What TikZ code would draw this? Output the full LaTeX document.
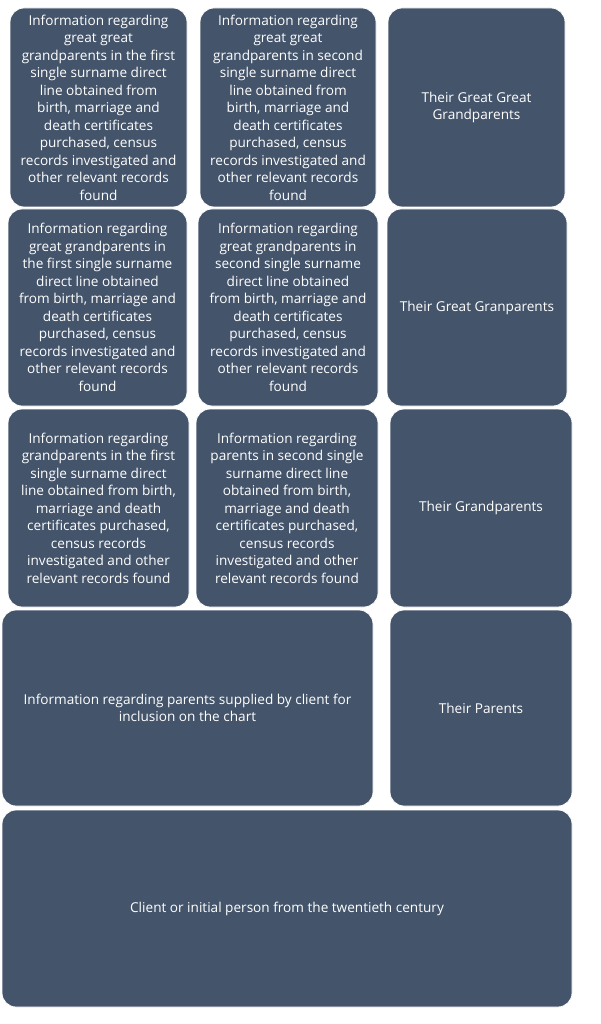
\documentclass[tikz,border=0pt]{standalone}
\usepackage{fontspec}
\setmainfont{Open Sans}
\definecolor{boxc}{HTML}{44546A}
\begin{document}
\begin{tikzpicture}[x=1pt,y=-1pt,
  bx/.style={fill=boxc,draw=white,line width=0.8pt,rounded corners=14pt},
  tx/.style={text=white,align=center,font=\fontsize{13.6}{17.5}\selectfont,inner sep=0pt}]
\useasboundingbox (0,0) rectangle (601,1024);
\newcommand{\bb}[6]{\draw[bx] (#2,#3) rectangle (#4,#5);
  \node[tx] (#1) at ({(#2+#4)/2},{(#3+#5)/2}) {#6};}
\bb{a1}{10}{8}{187}{207}{Information regarding\\great great\\grandparents in the first\\single surname direct\\line obtained from\\birth, marriage and\\death certificates\\purchased, census\\records investigated and\\other relevant records\\found}
\bb{b1}{200}{8}{376}{207}{Information regarding\\great great\\grandparents in second\\single surname direct\\line obtained from\\birth, marriage and\\death certificates\\purchased, census\\records investigated and\\other relevant records\\found}
\bb{c1}{388}{8}{565}{207}{Their Great Great\\Grandparents}
\bb{a2}{8}{209}{187}{406}{Information regarding\\great grandparents in\\the first single surname\\direct line obtained\\from birth, marriage and\\death certificates\\purchased, census\\records investigated and\\other relevant records\\found}
\bb{b2}{198}{209}{378}{406}{Information regarding\\great grandparents in\\second single surname\\direct line obtained\\from birth, marriage and\\death certificates\\purchased, census\\records investigated and\\other relevant records\\found}
\bb{c2}{387}{209}{567}{406}{Their Great Granparents}
\bb{a3}{8}{409}{189}{607}{Information regarding\\grandparents in the first\\single surname direct\\line obtained from birth,\\marriage and death\\certificates purchased,\\census records\\investigated and other\\relevant records found}
\bb{b3}{196}{409}{378}{607}{Information regarding\\parents in second single\\surname direct line\\obtained from birth,\\marriage and death\\certificates purchased,\\census records\\investigated and other\\relevant records found}
\bb{c3}{390}{409}{572}{607}{Their Grandparents}
\bb{a4}{2}{610}{373}{806}{Information regarding parents supplied by client for\\inclusion on the chart}
\bb{c4}{390}{610}{572}{806}{Their Parents}
\bb{a5}{2}{810}{572}{1007}{Client or initial person from the twentieth century}
\end{tikzpicture}
\end{document}
